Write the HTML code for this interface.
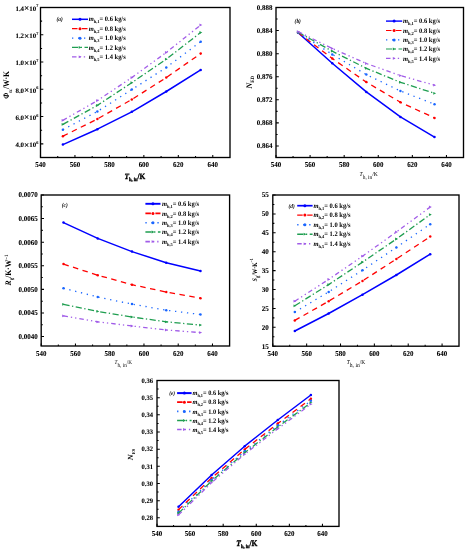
<!DOCTYPE html><html><head><meta charset="utf-8"><style>html,body{margin:0;padding:0;background:#fff;}svg{display:block;filter:blur(0.4px);}text{font-family:"Liberation Serif", "Times New Roman", serif;fill:#000;text-rendering:geometricPrecision;}</style></head><body>
<svg width="468" height="550" viewBox="0 0 468 550">
<rect width="468" height="550" fill="#fff"/>
<rect x="40.5" y="7.5" width="189.5" height="150" fill="none" stroke="#000" stroke-width="1.35"/>
<path d="M40.5,157.5v-2.6M74.95,157.5v-2.6M109.41,157.5v-2.6M143.86,157.5v-2.6M178.32,157.5v-2.6M212.77,157.5v-2.6M57.73,157.5v-1.5M92.18,157.5v-1.5M126.64,157.5v-1.5M161.09,157.5v-1.5M195.55,157.5v-1.5M40.5,143.86h2.8M40.5,116.59h2.8M40.5,89.32h2.8M40.5,62.05h2.8M40.5,34.77h2.8M40.5,7.5h2.8M40.5,130.23h1.6M40.5,102.95h1.6M40.5,75.68h1.6M40.5,48.41h1.6M40.5,21.14h1.6" stroke="#000" stroke-width="1.05" fill="none"/>
<text transform="translate(40.5,166.9) scale(0.93,1)" font-size="7.5" text-anchor="middle" font-weight="bold" stroke="#000" stroke-width="0.08">540</text>
<text transform="translate(74.95,166.9) scale(0.93,1)" font-size="7.5" text-anchor="middle" font-weight="bold" stroke="#000" stroke-width="0.08">560</text>
<text transform="translate(109.41,166.9) scale(0.93,1)" font-size="7.5" text-anchor="middle" font-weight="bold" stroke="#000" stroke-width="0.08">580</text>
<text transform="translate(143.86,166.9) scale(0.93,1)" font-size="7.5" text-anchor="middle" font-weight="bold" stroke="#000" stroke-width="0.08">600</text>
<text transform="translate(178.32,166.9) scale(0.93,1)" font-size="7.5" text-anchor="middle" font-weight="bold" stroke="#000" stroke-width="0.08">620</text>
<text transform="translate(212.77,166.9) scale(0.93,1)" font-size="7.5" text-anchor="middle" font-weight="bold" stroke="#000" stroke-width="0.08">640</text>
<text transform="translate(38.3,147.11) scale(1,1)" font-size="6.9" text-anchor="end" font-weight="bold" stroke="#000" stroke-width="0.08">4.0<tspan font-size="9.2" dy="0.5">×</tspan><tspan dy="-0.5">10</tspan><tspan font-size="4.2" dy="-3.3">6</tspan></text>
<text transform="translate(38.3,119.83) scale(1,1)" font-size="6.9" text-anchor="end" font-weight="bold" stroke="#000" stroke-width="0.08">6.0<tspan font-size="9.2" dy="0.5">×</tspan><tspan dy="-0.5">10</tspan><tspan font-size="4.2" dy="-3.3">6</tspan></text>
<text transform="translate(38.3,92.56) scale(1,1)" font-size="6.9" text-anchor="end" font-weight="bold" stroke="#000" stroke-width="0.08">8.0<tspan font-size="9.2" dy="0.5">×</tspan><tspan dy="-0.5">10</tspan><tspan font-size="4.2" dy="-3.3">6</tspan></text>
<text transform="translate(38.3,65.29) scale(1,1)" font-size="6.9" text-anchor="end" font-weight="bold" stroke="#000" stroke-width="0.08">1.0<tspan font-size="9.2" dy="0.5">×</tspan><tspan dy="-0.5">10</tspan><tspan font-size="4.2" dy="-3.3">7</tspan></text>
<text transform="translate(38.3,38.02) scale(1,1)" font-size="6.9" text-anchor="end" font-weight="bold" stroke="#000" stroke-width="0.08">1.2<tspan font-size="9.2" dy="0.5">×</tspan><tspan dy="-0.5">10</tspan><tspan font-size="4.2" dy="-3.3">7</tspan></text>
<text transform="translate(38.3,10.74) scale(1,1)" font-size="6.9" text-anchor="end" font-weight="bold" stroke="#000" stroke-width="0.08">1.4<tspan font-size="9.2" dy="0.5">×</tspan><tspan dy="-0.5">10</tspan><tspan font-size="4.2" dy="-3.3">7</tspan></text>
<path d="M62.9,144.6 L97.35,129.2 L131.8,111.8 L166.26,91.5 L200.71,69.9" fill="none" stroke="#0000ff" stroke-width="1.5" stroke-linejoin="round"/>
<circle cx="62.9" cy="144.6" r="1.25" fill="#0000ff"/>
<circle cx="97.35" cy="129.2" r="1.25" fill="#0000ff"/>
<circle cx="131.8" cy="111.8" r="1.25" fill="#0000ff"/>
<circle cx="166.26" cy="91.5" r="1.25" fill="#0000ff"/>
<circle cx="200.71" cy="69.9" r="1.25" fill="#0000ff"/>
<path d="M62.9,136.2 L97.35,119 L131.8,99.5 L166.26,77.6 L200.71,53.6" fill="none" stroke="#ff0000" stroke-width="1.3" stroke-linejoin="round" stroke-dasharray="5.5,4.5"/>
<circle cx="62.9" cy="136.2" r="1.25" fill="#ff0000"/>
<circle cx="97.35" cy="119" r="1.25" fill="#ff0000"/>
<circle cx="131.8" cy="99.5" r="1.25" fill="#ff0000"/>
<circle cx="166.26" cy="77.6" r="1.25" fill="#ff0000"/>
<circle cx="200.71" cy="53.6" r="1.25" fill="#ff0000"/>
<path d="M62.9,129.7 L97.35,111.5 L131.8,89.6 L166.26,67.5 L200.71,41.7" fill="none" stroke="#1a66ff" stroke-width="1.3" stroke-linejoin="round" stroke-dasharray="1.3,4.7"/>
<circle cx="62.9" cy="129.7" r="1.25" fill="#1a66ff"/>
<circle cx="97.35" cy="111.5" r="1.25" fill="#1a66ff"/>
<circle cx="131.8" cy="89.6" r="1.25" fill="#1a66ff"/>
<circle cx="166.26" cy="67.5" r="1.25" fill="#1a66ff"/>
<circle cx="200.71" cy="41.7" r="1.25" fill="#1a66ff"/>
<path d="M62.9,124.4 L97.35,105.4 L131.8,82.7 L166.26,59.2 L200.71,32.5" fill="none" stroke="#1f9e50" stroke-width="1.3" stroke-linejoin="round" stroke-dasharray="6.2,2.5,1.3,2.5"/>
<path d="M61.6,123 L64.5,124.4 L61.6,125.8 Z" fill="#1f9e50"/>
<path d="M96.05,104 L98.95,105.4 L96.05,106.8 Z" fill="#1f9e50"/>
<path d="M130.5,81.3 L133.4,82.7 L130.5,84.1 Z" fill="#1f9e50"/>
<path d="M164.96,57.8 L167.86,59.2 L164.96,60.6 Z" fill="#1f9e50"/>
<path d="M199.41,31.1 L202.31,32.5 L199.41,33.9 Z" fill="#1f9e50"/>
<path d="M62.9,120.3 L97.35,100.6 L131.8,77.6 L166.26,52.5 L200.71,25" fill="none" stroke="#a15ce8" stroke-width="1.3" stroke-linejoin="round" stroke-dasharray="4.5,3,1.3,3,1.3,3"/>
<path d="M61.6,118.9 L64.5,120.3 L61.6,121.7 Z" fill="#a15ce8"/>
<path d="M96.05,99.2 L98.95,100.6 L96.05,102 Z" fill="#a15ce8"/>
<path d="M130.5,76.2 L133.4,77.6 L130.5,79 Z" fill="#a15ce8"/>
<path d="M164.96,51.1 L167.86,52.5 L164.96,53.9 Z" fill="#a15ce8"/>
<path d="M199.41,23.6 L202.31,25 L199.41,26.4 Z" fill="#a15ce8"/>
<path d="M72,19.3H88" stroke="#0000ff" stroke-width="1.5"/>
<circle cx="80" cy="19.3" r="1.5" fill="#0000ff"/>
<text transform="translate(88.7,21.4) scale(0.97,1)" font-size="6.9" font-weight="bold" textLength="38.14" lengthAdjust="spacingAndGlyphs"><tspan font-style="italic" font-weight="bold">m</tspan><tspan font-size="4.69" dy="2.0">h,1</tspan><tspan dy="-2.0">= 0.6 kg/s</tspan></text>
<path d="M72,28.7H88" stroke="#ff0000" stroke-width="1.27" stroke-dasharray="5.5,4.5"/>
<circle cx="80" cy="28.7" r="1.5" fill="#ff0000"/>
<text transform="translate(88.7,30.8) scale(0.97,1)" font-size="6.9" font-weight="bold" textLength="38.14" lengthAdjust="spacingAndGlyphs"><tspan font-style="italic" font-weight="bold">m</tspan><tspan font-size="4.69" dy="2.0">h,2</tspan><tspan dy="-2.0">= 0.8 kg/s</tspan></text>
<path d="M72,38.2H88" stroke="#1a66ff" stroke-width="1.27" stroke-dasharray="1.3,4.7"/>
<circle cx="80" cy="38.2" r="1.5" fill="#1a66ff"/>
<text transform="translate(88.7,40.3) scale(0.97,1)" font-size="6.9" font-weight="bold" textLength="38.14" lengthAdjust="spacingAndGlyphs"><tspan font-style="italic" font-weight="bold">m</tspan><tspan font-size="4.69" dy="2.0">h,3</tspan><tspan dy="-2.0">= 1.0 kg/s</tspan></text>
<path d="M72,47.4H88" stroke="#1f9e50" stroke-width="1.27" stroke-dasharray="6.2,2.5,1.3,2.5"/>
<path d="M78.7,46 L81.6,47.4 L78.7,48.8 Z" fill="#1f9e50"/>
<text transform="translate(88.7,49.5) scale(0.97,1)" font-size="6.9" font-weight="bold" textLength="38.14" lengthAdjust="spacingAndGlyphs"><tspan font-style="italic" font-weight="bold">m</tspan><tspan font-size="4.69" dy="2.0">h,4</tspan><tspan dy="-2.0">= 1.2 kg/s</tspan></text>
<path d="M72,56.8H88" stroke="#a15ce8" stroke-width="1.27" stroke-dasharray="4.5,3,1.3,3,1.3,3"/>
<path d="M78.7,55.4 L81.6,56.8 L78.7,58.2 Z" fill="#a15ce8"/>
<text transform="translate(88.7,58.9) scale(0.97,1)" font-size="6.9" font-weight="bold" textLength="38.14" lengthAdjust="spacingAndGlyphs"><tspan font-style="italic" font-weight="bold">m</tspan><tspan font-size="4.69" dy="2.0">h,5</tspan><tspan dy="-2.0">= 1.4 kg/s</tspan></text>
<text transform="translate(56.5,20.8) scale(0.9,1)" font-size="6" font-weight="bold" font-style="italic">(a)</text>
<text transform="translate(124.5,178.8) scale(0.9,1)" font-size="8.2" font-weight="bold" stroke="#000" stroke-width="0.35"><tspan font-style="italic">T</tspan><tspan font-size="5" dy="2">h, in</tspan><tspan dy="-2">/K</tspan></text>
<text transform="translate(9.4,98.7) scale(1.12,1) rotate(-90)" font-size="7.6" font-weight="bold"><tspan font-style="italic">Φ</tspan><tspan font-size="4.6" dy="2">tc</tspan><tspan dy="-2">/W·K</tspan></text>
<rect x="276" y="7.5" width="187.5" height="150" fill="none" stroke="#000" stroke-width="1.35"/>
<path d="M276,157.5v-2.6M310.09,157.5v-2.6M344.18,157.5v-2.6M378.27,157.5v-2.6M412.36,157.5v-2.6M446.45,157.5v-2.6M293.05,157.5v-1.5M327.14,157.5v-1.5M361.23,157.5v-1.5M395.32,157.5v-1.5M429.41,157.5v-1.5M276,145.96h2.8M276,122.88h2.8M276,99.81h2.8M276,76.73h2.8M276,53.65h2.8M276,30.58h2.8M276,7.5h2.8M276,134.42h1.6M276,111.35h1.6M276,88.27h1.6M276,65.19h1.6M276,42.12h1.6M276,19.04h1.6" stroke="#000" stroke-width="1.05" fill="none"/>
<text transform="translate(276,166.9) scale(0.93,1)" font-size="7.5" text-anchor="middle" font-weight="bold" stroke="#000" stroke-width="0.08">540</text>
<text transform="translate(310.09,166.9) scale(0.93,1)" font-size="7.5" text-anchor="middle" font-weight="bold" stroke="#000" stroke-width="0.08">560</text>
<text transform="translate(344.18,166.9) scale(0.93,1)" font-size="7.5" text-anchor="middle" font-weight="bold" stroke="#000" stroke-width="0.08">580</text>
<text transform="translate(378.27,166.9) scale(0.93,1)" font-size="7.5" text-anchor="middle" font-weight="bold" stroke="#000" stroke-width="0.08">600</text>
<text transform="translate(412.36,166.9) scale(0.93,1)" font-size="7.5" text-anchor="middle" font-weight="bold" stroke="#000" stroke-width="0.08">620</text>
<text transform="translate(446.45,166.9) scale(0.93,1)" font-size="7.5" text-anchor="middle" font-weight="bold" stroke="#000" stroke-width="0.08">640</text>
<text transform="translate(272.4,148.3) scale(0.98,1)" font-size="7.1" text-anchor="end" font-weight="bold" stroke="#000" stroke-width="0.08">0.864</text>
<text transform="translate(272.4,125.23) scale(0.98,1)" font-size="7.1" text-anchor="end" font-weight="bold" stroke="#000" stroke-width="0.08">0.868</text>
<text transform="translate(272.4,102.15) scale(0.98,1)" font-size="7.1" text-anchor="end" font-weight="bold" stroke="#000" stroke-width="0.08">0.872</text>
<text transform="translate(272.4,79.07) scale(0.98,1)" font-size="7.1" text-anchor="end" font-weight="bold" stroke="#000" stroke-width="0.08">0.876</text>
<text transform="translate(272.4,56) scale(0.98,1)" font-size="7.1" text-anchor="end" font-weight="bold" stroke="#000" stroke-width="0.08">0.880</text>
<text transform="translate(272.4,32.92) scale(0.98,1)" font-size="7.1" text-anchor="end" font-weight="bold" stroke="#000" stroke-width="0.08">0.884</text>
<text transform="translate(272.4,9.84) scale(0.98,1)" font-size="7.1" text-anchor="end" font-weight="bold" stroke="#000" stroke-width="0.08">0.888</text>
<path d="M298.16,32.8 L332.25,63.3 L366.34,91.9 L400.43,116.9 L434.52,137.1" fill="none" stroke="#0000ff" stroke-width="1.5" stroke-linejoin="round"/>
<circle cx="298.16" cy="32.8" r="1.25" fill="#0000ff"/>
<circle cx="332.25" cy="63.3" r="1.25" fill="#0000ff"/>
<circle cx="366.34" cy="91.9" r="1.25" fill="#0000ff"/>
<circle cx="400.43" cy="116.9" r="1.25" fill="#0000ff"/>
<circle cx="434.52" cy="137.1" r="1.25" fill="#0000ff"/>
<path d="M298.16,32.6 L332.25,58.5 L366.34,82.1 L400.43,102.3 L434.52,117.9" fill="none" stroke="#ff0000" stroke-width="1.3" stroke-linejoin="round" stroke-dasharray="5.5,4.5"/>
<circle cx="298.16" cy="32.6" r="1.25" fill="#ff0000"/>
<circle cx="332.25" cy="58.5" r="1.25" fill="#ff0000"/>
<circle cx="366.34" cy="82.1" r="1.25" fill="#ff0000"/>
<circle cx="400.43" cy="102.3" r="1.25" fill="#ff0000"/>
<circle cx="434.52" cy="117.9" r="1.25" fill="#ff0000"/>
<path d="M298.16,32.4 L332.25,54.4 L366.34,74.6 L400.43,91 L434.52,104.2" fill="none" stroke="#1a66ff" stroke-width="1.3" stroke-linejoin="round" stroke-dasharray="1.3,4.7"/>
<circle cx="298.16" cy="32.4" r="1.25" fill="#1a66ff"/>
<circle cx="332.25" cy="54.4" r="1.25" fill="#1a66ff"/>
<circle cx="366.34" cy="74.6" r="1.25" fill="#1a66ff"/>
<circle cx="400.43" cy="91" r="1.25" fill="#1a66ff"/>
<circle cx="434.52" cy="104.2" r="1.25" fill="#1a66ff"/>
<path d="M298.16,32.2 L332.25,51.2 L366.34,68.3 L400.43,82.3 L434.52,93.3" fill="none" stroke="#1f9e50" stroke-width="1.3" stroke-linejoin="round" stroke-dasharray="6.2,2.5,1.3,2.5"/>
<path d="M296.86,30.8 L299.76,32.2 L296.86,33.6 Z" fill="#1f9e50"/>
<path d="M330.95,49.8 L333.85,51.2 L330.95,52.6 Z" fill="#1f9e50"/>
<path d="M365.04,66.9 L367.94,68.3 L365.04,69.7 Z" fill="#1f9e50"/>
<path d="M399.13,80.9 L402.03,82.3 L399.13,83.7 Z" fill="#1f9e50"/>
<path d="M433.22,91.9 L436.12,93.3 L433.22,94.7 Z" fill="#1f9e50"/>
<path d="M298.16,31.6 L332.25,48.5 L366.34,63.5 L400.43,75.6 L434.52,85.2" fill="none" stroke="#a15ce8" stroke-width="1.3" stroke-linejoin="round" stroke-dasharray="4.5,3,1.3,3,1.3,3"/>
<path d="M296.86,30.2 L299.76,31.6 L296.86,33 Z" fill="#a15ce8"/>
<path d="M330.95,47.1 L333.85,48.5 L330.95,49.9 Z" fill="#a15ce8"/>
<path d="M365.04,62.1 L367.94,63.5 L365.04,64.9 Z" fill="#a15ce8"/>
<path d="M399.13,74.2 L402.03,75.6 L399.13,77 Z" fill="#a15ce8"/>
<path d="M433.22,83.8 L436.12,85.2 L433.22,86.6 Z" fill="#a15ce8"/>
<path d="M386,21.1H402.2" stroke="#0000ff" stroke-width="1.4"/>
<circle cx="394.1" cy="21.1" r="1.5" fill="#0000ff"/>
<text transform="translate(403,23.2) scale(0.97,1)" font-size="6.9" font-weight="bold" textLength="38.14" lengthAdjust="spacingAndGlyphs"><tspan font-style="italic" font-weight="bold">m</tspan><tspan font-size="4.69" dy="2.0">h,1</tspan><tspan dy="-2.0">= 0.6 kg/s</tspan></text>
<path d="M386,30.5H402.2" stroke="#ff0000" stroke-width="1.19" stroke-dasharray="5.5,4.5"/>
<circle cx="394.1" cy="30.5" r="1.5" fill="#ff0000"/>
<text transform="translate(403,32.6) scale(0.97,1)" font-size="6.9" font-weight="bold" textLength="38.14" lengthAdjust="spacingAndGlyphs"><tspan font-style="italic" font-weight="bold">m</tspan><tspan font-size="4.69" dy="2.0">h,2</tspan><tspan dy="-2.0">= 0.8 kg/s</tspan></text>
<path d="M386,39.9H402.2" stroke="#1a66ff" stroke-width="1.19" stroke-dasharray="1.3,4.7"/>
<circle cx="394.1" cy="39.9" r="1.5" fill="#1a66ff"/>
<text transform="translate(403,42) scale(0.97,1)" font-size="6.9" font-weight="bold" textLength="38.14" lengthAdjust="spacingAndGlyphs"><tspan font-style="italic" font-weight="bold">m</tspan><tspan font-size="4.69" dy="2.0">h,3</tspan><tspan dy="-2.0">= 1.0 kg/s</tspan></text>
<path d="M386,49H402.2" stroke="#1f9e50" stroke-width="1.19" stroke-dasharray="6.2,2.5,1.3,2.5"/>
<path d="M392.8,47.6 L395.7,49 L392.8,50.4 Z" fill="#1f9e50"/>
<text transform="translate(403,51.1) scale(0.97,1)" font-size="6.9" font-weight="bold" textLength="38.14" lengthAdjust="spacingAndGlyphs"><tspan font-style="italic" font-weight="bold">m</tspan><tspan font-size="4.69" dy="2.0">h,4</tspan><tspan dy="-2.0">= 1.2 kg/s</tspan></text>
<path d="M386,58.4H402.2" stroke="#a15ce8" stroke-width="1.19" stroke-dasharray="4.5,3,1.3,3,1.3,3"/>
<path d="M392.8,57 L395.7,58.4 L392.8,59.8 Z" fill="#a15ce8"/>
<text transform="translate(403,60.5) scale(0.97,1)" font-size="6.9" font-weight="bold" textLength="38.14" lengthAdjust="spacingAndGlyphs"><tspan font-style="italic" font-weight="bold">m</tspan><tspan font-size="4.69" dy="2.0">h,5</tspan><tspan dy="-2.0">= 1.4 kg/s</tspan></text>
<text transform="translate(294.6,22.9) scale(0.9,1)" font-size="6" font-weight="bold" font-style="italic">(b)</text>
<text transform="translate(359.6,176.2) scale(0.9,1)" font-size="6.2"><tspan font-style="italic">T</tspan><tspan font-size="6" dy="2.6">h, in</tspan><tspan dy="-2.6">/K</tspan></text>
<text transform="translate(252.4,88.8) scale(1,1) rotate(-90)" font-size="8.4" font-weight="bold"><tspan font-style="italic">N</tspan><tspan font-size="5" dy="1.7">ED</tspan></text>
<rect x="41.2" y="195" width="188.4" height="151" fill="none" stroke="#000" stroke-width="1.35"/>
<path d="M41.2,346v-2.6M75.45,346v-2.6M109.71,346v-2.6M143.96,346v-2.6M178.22,346v-2.6M212.47,346v-2.6M58.33,346v-1.5M92.58,346v-1.5M126.84,346v-1.5M161.09,346v-1.5M195.35,346v-1.5M41.2,336.56h2.8M41.2,312.97h2.8M41.2,289.38h2.8M41.2,265.78h2.8M41.2,242.19h2.8M41.2,218.59h2.8M41.2,195h2.8M41.2,324.77h1.6M41.2,301.17h1.6M41.2,277.58h1.6M41.2,253.98h1.6M41.2,230.39h1.6M41.2,206.8h1.6" stroke="#000" stroke-width="1.05" fill="none"/>
<text transform="translate(41.2,355.8) scale(0.93,1)" font-size="7.5" text-anchor="middle" font-weight="bold" stroke="#000" stroke-width="0.08">540</text>
<text transform="translate(75.45,355.8) scale(0.93,1)" font-size="7.5" text-anchor="middle" font-weight="bold" stroke="#000" stroke-width="0.08">560</text>
<text transform="translate(109.71,355.8) scale(0.93,1)" font-size="7.5" text-anchor="middle" font-weight="bold" stroke="#000" stroke-width="0.08">580</text>
<text transform="translate(143.96,355.8) scale(0.93,1)" font-size="7.5" text-anchor="middle" font-weight="bold" stroke="#000" stroke-width="0.08">600</text>
<text transform="translate(178.22,355.8) scale(0.93,1)" font-size="7.5" text-anchor="middle" font-weight="bold" stroke="#000" stroke-width="0.08">620</text>
<text transform="translate(212.47,355.8) scale(0.93,1)" font-size="7.5" text-anchor="middle" font-weight="bold" stroke="#000" stroke-width="0.08">640</text>
<text transform="translate(37.8,339) scale(0.95,1)" font-size="7.4" text-anchor="end" font-weight="bold" stroke="#000" stroke-width="0.08">0.0040</text>
<text transform="translate(37.8,315.41) scale(0.95,1)" font-size="7.4" text-anchor="end" font-weight="bold" stroke="#000" stroke-width="0.08">0.0045</text>
<text transform="translate(37.8,291.82) scale(0.95,1)" font-size="7.4" text-anchor="end" font-weight="bold" stroke="#000" stroke-width="0.08">0.0050</text>
<text transform="translate(37.8,268.22) scale(0.95,1)" font-size="7.4" text-anchor="end" font-weight="bold" stroke="#000" stroke-width="0.08">0.0055</text>
<text transform="translate(37.8,244.63) scale(0.95,1)" font-size="7.4" text-anchor="end" font-weight="bold" stroke="#000" stroke-width="0.08">0.0060</text>
<text transform="translate(37.8,221.04) scale(0.95,1)" font-size="7.4" text-anchor="end" font-weight="bold" stroke="#000" stroke-width="0.08">0.0065</text>
<text transform="translate(37.8,197.44) scale(0.95,1)" font-size="7.4" text-anchor="end" font-weight="bold" stroke="#000" stroke-width="0.08">0.0070</text>
<path d="M63.47,222.6 L97.72,238.4 L131.97,251.6 L166.23,262.7 L200.48,271" fill="none" stroke="#0000ff" stroke-width="1.5" stroke-linejoin="round"/>
<circle cx="63.47" cy="222.6" r="1.25" fill="#0000ff"/>
<circle cx="97.72" cy="238.4" r="1.25" fill="#0000ff"/>
<circle cx="131.97" cy="251.6" r="1.25" fill="#0000ff"/>
<circle cx="166.23" cy="262.7" r="1.25" fill="#0000ff"/>
<circle cx="200.48" cy="271" r="1.25" fill="#0000ff"/>
<path d="M63.47,264.1 L97.72,275.2 L131.97,284.7 L166.23,292 L200.48,298.2" fill="none" stroke="#ff0000" stroke-width="1.3" stroke-linejoin="round" stroke-dasharray="5.5,4.5"/>
<circle cx="63.47" cy="264.1" r="1.25" fill="#ff0000"/>
<circle cx="97.72" cy="275.2" r="1.25" fill="#ff0000"/>
<circle cx="131.97" cy="284.7" r="1.25" fill="#ff0000"/>
<circle cx="166.23" cy="292" r="1.25" fill="#ff0000"/>
<circle cx="200.48" cy="298.2" r="1.25" fill="#ff0000"/>
<path d="M63.47,288.2 L97.72,297 L131.97,304.1 L166.23,310.2 L200.48,314.5" fill="none" stroke="#1a66ff" stroke-width="1.3" stroke-linejoin="round" stroke-dasharray="1.3,4.7"/>
<circle cx="63.47" cy="288.2" r="1.25" fill="#1a66ff"/>
<circle cx="97.72" cy="297" r="1.25" fill="#1a66ff"/>
<circle cx="131.97" cy="304.1" r="1.25" fill="#1a66ff"/>
<circle cx="166.23" cy="310.2" r="1.25" fill="#1a66ff"/>
<circle cx="200.48" cy="314.5" r="1.25" fill="#1a66ff"/>
<path d="M63.47,304.3 L97.72,311.4 L131.97,317 L166.23,321.8 L200.48,325.1" fill="none" stroke="#1f9e50" stroke-width="1.3" stroke-linejoin="round" stroke-dasharray="6.2,2.5,1.3,2.5"/>
<path d="M62.17,302.9 L65.07,304.3 L62.17,305.7 Z" fill="#1f9e50"/>
<path d="M96.42,310 L99.32,311.4 L96.42,312.8 Z" fill="#1f9e50"/>
<path d="M130.67,315.6 L133.57,317 L130.67,318.4 Z" fill="#1f9e50"/>
<path d="M164.93,320.4 L167.83,321.8 L164.93,323.2 Z" fill="#1f9e50"/>
<path d="M199.18,323.7 L202.08,325.1 L199.18,326.5 Z" fill="#1f9e50"/>
<path d="M63.47,315.9 L97.72,321.8 L131.97,326 L166.23,330 L200.48,332.6" fill="none" stroke="#a15ce8" stroke-width="1.3" stroke-linejoin="round" stroke-dasharray="4.5,3,1.3,3,1.3,3"/>
<path d="M62.17,314.5 L65.07,315.9 L62.17,317.3 Z" fill="#a15ce8"/>
<path d="M96.42,320.4 L99.32,321.8 L96.42,323.2 Z" fill="#a15ce8"/>
<path d="M130.67,324.6 L133.57,326 L130.67,327.4 Z" fill="#a15ce8"/>
<path d="M164.93,328.6 L167.83,330 L164.93,331.4 Z" fill="#a15ce8"/>
<path d="M199.18,331.2 L202.08,332.6 L199.18,334 Z" fill="#a15ce8"/>
<path d="M145.4,203.8H160.5" stroke="#0000ff" stroke-width="1.9"/>
<circle cx="152.95" cy="203.8" r="1.5" fill="#0000ff"/>
<text transform="translate(162,205.9) scale(0.97,1)" font-size="6.9" font-weight="bold" textLength="38.14" lengthAdjust="spacingAndGlyphs"><tspan font-style="italic" font-weight="bold">m</tspan><tspan font-size="4.69" dy="2.0">h,1</tspan><tspan dy="-2.0">= 0.6 kg/s</tspan></text>
<path d="M145.4,213.4H160.5" stroke="#ff0000" stroke-width="1.61" stroke-dasharray="5.5,4.5"/>
<circle cx="152.95" cy="213.4" r="1.5" fill="#ff0000"/>
<text transform="translate(162,215.5) scale(0.97,1)" font-size="6.9" font-weight="bold" textLength="38.14" lengthAdjust="spacingAndGlyphs"><tspan font-style="italic" font-weight="bold">m</tspan><tspan font-size="4.69" dy="2.0">h,2</tspan><tspan dy="-2.0">= 0.8 kg/s</tspan></text>
<path d="M145.4,222.7H160.5" stroke="#1a66ff" stroke-width="1.61" stroke-dasharray="1.3,4.7"/>
<circle cx="152.95" cy="222.7" r="1.5" fill="#1a66ff"/>
<text transform="translate(162,224.8) scale(0.97,1)" font-size="6.9" font-weight="bold" textLength="38.14" lengthAdjust="spacingAndGlyphs"><tspan font-style="italic" font-weight="bold">m</tspan><tspan font-size="4.69" dy="2.0">h,3</tspan><tspan dy="-2.0">= 1.0 kg/s</tspan></text>
<path d="M145.4,232H160.5" stroke="#1f9e50" stroke-width="1.61" stroke-dasharray="6.2,2.5,1.3,2.5"/>
<path d="M151.65,230.6 L154.55,232 L151.65,233.4 Z" fill="#1f9e50"/>
<text transform="translate(162,234.1) scale(0.97,1)" font-size="6.9" font-weight="bold" textLength="38.14" lengthAdjust="spacingAndGlyphs"><tspan font-style="italic" font-weight="bold">m</tspan><tspan font-size="4.69" dy="2.0">h,4</tspan><tspan dy="-2.0">= 1.2 kg/s</tspan></text>
<path d="M145.4,241.6H160.5" stroke="#a15ce8" stroke-width="1.61" stroke-dasharray="4.5,3,1.3,3,1.3,3"/>
<path d="M151.65,240.2 L154.55,241.6 L151.65,243 Z" fill="#a15ce8"/>
<text transform="translate(162,243.7) scale(0.97,1)" font-size="6.9" font-weight="bold" textLength="38.14" lengthAdjust="spacingAndGlyphs"><tspan font-style="italic" font-weight="bold">m</tspan><tspan font-size="4.69" dy="2.0">h,5</tspan><tspan dy="-2.0">= 1.4 kg/s</tspan></text>
<text transform="translate(61.7,207.4) scale(0.9,1)" font-size="6" font-weight="bold" font-style="italic">(c)</text>
<text transform="translate(114.6,364.3) scale(0.9,1)" font-size="5.8"><tspan font-style="italic">T</tspan><tspan font-size="5.8" dy="2.6">h, in</tspan><tspan dy="-2.6">/K</tspan></text>
<text transform="translate(10.9,285.4) scale(1.1,1) rotate(-90)" font-size="7.6" font-weight="bold"><tspan font-style="italic">R</tspan><tspan font-size="4.8" dy="1.8">g</tspan><tspan dy="-1.8">/K·W</tspan><tspan font-size="4.8" dy="-3">−1</tspan></text>
<rect x="272.8" y="195" width="186.2" height="151.2" fill="none" stroke="#000" stroke-width="1.35"/>
<path d="M272.8,346.2v-2.6M306.65,346.2v-2.6M340.51,346.2v-2.6M374.36,346.2v-2.6M408.22,346.2v-2.6M442.07,346.2v-2.6M289.73,346.2v-1.5M323.58,346.2v-1.5M357.44,346.2v-1.5M391.29,346.2v-1.5M425.15,346.2v-1.5M272.8,346.2h2.8M272.8,327.3h2.8M272.8,308.4h2.8M272.8,289.5h2.8M272.8,270.6h2.8M272.8,251.7h2.8M272.8,232.8h2.8M272.8,213.9h2.8M272.8,195h2.8M272.8,336.75h1.6M272.8,317.85h1.6M272.8,298.95h1.6M272.8,280.05h1.6M272.8,261.15h1.6M272.8,242.25h1.6M272.8,223.35h1.6M272.8,204.45h1.6" stroke="#000" stroke-width="1.05" fill="none"/>
<text transform="translate(272.8,356.2) scale(0.93,1)" font-size="7.5" text-anchor="middle" font-weight="bold" stroke="#000" stroke-width="0.08">540</text>
<text transform="translate(306.65,356.2) scale(0.93,1)" font-size="7.5" text-anchor="middle" font-weight="bold" stroke="#000" stroke-width="0.08">560</text>
<text transform="translate(340.51,356.2) scale(0.93,1)" font-size="7.5" text-anchor="middle" font-weight="bold" stroke="#000" stroke-width="0.08">580</text>
<text transform="translate(374.36,356.2) scale(0.93,1)" font-size="7.5" text-anchor="middle" font-weight="bold" stroke="#000" stroke-width="0.08">600</text>
<text transform="translate(408.22,356.2) scale(0.93,1)" font-size="7.5" text-anchor="middle" font-weight="bold" stroke="#000" stroke-width="0.08">620</text>
<text transform="translate(442.07,356.2) scale(0.93,1)" font-size="7.5" text-anchor="middle" font-weight="bold" stroke="#000" stroke-width="0.08">640</text>
<text transform="translate(268.9,348.61) scale(0.97,1)" font-size="7.3" text-anchor="end" font-weight="bold" stroke="#000" stroke-width="0.08">15</text>
<text transform="translate(268.9,329.71) scale(0.97,1)" font-size="7.3" text-anchor="end" font-weight="bold" stroke="#000" stroke-width="0.08">20</text>
<text transform="translate(268.9,310.81) scale(0.97,1)" font-size="7.3" text-anchor="end" font-weight="bold" stroke="#000" stroke-width="0.08">25</text>
<text transform="translate(268.9,291.91) scale(0.97,1)" font-size="7.3" text-anchor="end" font-weight="bold" stroke="#000" stroke-width="0.08">30</text>
<text transform="translate(268.9,273.01) scale(0.97,1)" font-size="7.3" text-anchor="end" font-weight="bold" stroke="#000" stroke-width="0.08">35</text>
<text transform="translate(268.9,254.11) scale(0.97,1)" font-size="7.3" text-anchor="end" font-weight="bold" stroke="#000" stroke-width="0.08">40</text>
<text transform="translate(268.9,235.21) scale(0.97,1)" font-size="7.3" text-anchor="end" font-weight="bold" stroke="#000" stroke-width="0.08">45</text>
<text transform="translate(268.9,216.31) scale(0.97,1)" font-size="7.3" text-anchor="end" font-weight="bold" stroke="#000" stroke-width="0.08">50</text>
<text transform="translate(268.9,197.41) scale(0.97,1)" font-size="7.3" text-anchor="end" font-weight="bold" stroke="#000" stroke-width="0.08">55</text>
<path d="M294.81,331 L328.66,313.5 L362.51,294.7 L396.37,275 L430.22,254.2" fill="none" stroke="#0000ff" stroke-width="1.5" stroke-linejoin="round"/>
<circle cx="294.81" cy="331" r="1.25" fill="#0000ff"/>
<circle cx="328.66" cy="313.5" r="1.25" fill="#0000ff"/>
<circle cx="362.51" cy="294.7" r="1.25" fill="#0000ff"/>
<circle cx="396.37" cy="275" r="1.25" fill="#0000ff"/>
<circle cx="430.22" cy="254.2" r="1.25" fill="#0000ff"/>
<path d="M294.81,320.4 L328.66,301.2 L362.51,280.9 L396.37,259 L430.22,236.6" fill="none" stroke="#ff0000" stroke-width="1.3" stroke-linejoin="round" stroke-dasharray="5.5,4.5"/>
<circle cx="294.81" cy="320.4" r="1.25" fill="#ff0000"/>
<circle cx="328.66" cy="301.2" r="1.25" fill="#ff0000"/>
<circle cx="362.51" cy="280.9" r="1.25" fill="#ff0000"/>
<circle cx="396.37" cy="259" r="1.25" fill="#ff0000"/>
<circle cx="430.22" cy="236.6" r="1.25" fill="#ff0000"/>
<path d="M294.81,312.1 L328.66,291.9 L362.51,270.2 L396.37,247.4 L430.22,224.2" fill="none" stroke="#1a66ff" stroke-width="1.3" stroke-linejoin="round" stroke-dasharray="1.3,4.7"/>
<circle cx="294.81" cy="312.1" r="1.25" fill="#1a66ff"/>
<circle cx="328.66" cy="291.9" r="1.25" fill="#1a66ff"/>
<circle cx="362.51" cy="270.2" r="1.25" fill="#1a66ff"/>
<circle cx="396.37" cy="247.4" r="1.25" fill="#1a66ff"/>
<circle cx="430.22" cy="224.2" r="1.25" fill="#1a66ff"/>
<path d="M294.81,305.8 L328.66,284.6 L362.51,262.1 L396.37,239 L430.22,214.6" fill="none" stroke="#1f9e50" stroke-width="1.3" stroke-linejoin="round" stroke-dasharray="6.2,2.5,1.3,2.5"/>
<path d="M293.51,304.4 L296.41,305.8 L293.51,307.2 Z" fill="#1f9e50"/>
<path d="M327.36,283.2 L330.26,284.6 L327.36,286 Z" fill="#1f9e50"/>
<path d="M361.21,260.7 L364.11,262.1 L361.21,263.5 Z" fill="#1f9e50"/>
<path d="M395.07,237.6 L397.97,239 L395.07,240.4 Z" fill="#1f9e50"/>
<path d="M428.92,213.2 L431.82,214.6 L428.92,216 Z" fill="#1f9e50"/>
<path d="M294.81,301.2 L328.66,279.4 L362.51,256.2 L396.37,232 L430.22,207" fill="none" stroke="#a15ce8" stroke-width="1.3" stroke-linejoin="round" stroke-dasharray="4.5,3,1.3,3,1.3,3"/>
<path d="M293.51,299.8 L296.41,301.2 L293.51,302.6 Z" fill="#a15ce8"/>
<path d="M327.36,278 L330.26,279.4 L327.36,280.8 Z" fill="#a15ce8"/>
<path d="M361.21,254.8 L364.11,256.2 L361.21,257.6 Z" fill="#a15ce8"/>
<path d="M395.07,230.6 L397.97,232 L395.07,233.4 Z" fill="#a15ce8"/>
<path d="M428.92,205.6 L431.82,207 L428.92,208.4 Z" fill="#a15ce8"/>
<path d="M297.2,205.7H312.6" stroke="#0000ff" stroke-width="1.7"/>
<circle cx="304.9" cy="205.7" r="1.5" fill="#0000ff"/>
<text transform="translate(313.5,207.8) scale(0.97,1)" font-size="6.9" font-weight="bold" textLength="38.14" lengthAdjust="spacingAndGlyphs"><tspan font-style="italic" font-weight="bold">m</tspan><tspan font-size="4.69" dy="2.0">h,1</tspan><tspan dy="-2.0">= 0.6 kg/s</tspan></text>
<path d="M297.2,215.1H312.6" stroke="#ff0000" stroke-width="1.44" stroke-dasharray="5.5,4.5"/>
<circle cx="304.9" cy="215.1" r="1.5" fill="#ff0000"/>
<text transform="translate(313.5,217.2) scale(0.97,1)" font-size="6.9" font-weight="bold" textLength="38.14" lengthAdjust="spacingAndGlyphs"><tspan font-style="italic" font-weight="bold">m</tspan><tspan font-size="4.69" dy="2.0">h,2</tspan><tspan dy="-2.0">= 0.8 kg/s</tspan></text>
<path d="M297.2,224.8H312.6" stroke="#1a66ff" stroke-width="1.44" stroke-dasharray="1.3,4.7"/>
<circle cx="304.9" cy="224.8" r="1.5" fill="#1a66ff"/>
<text transform="translate(313.5,226.9) scale(0.97,1)" font-size="6.9" font-weight="bold" textLength="38.14" lengthAdjust="spacingAndGlyphs"><tspan font-style="italic" font-weight="bold">m</tspan><tspan font-size="4.69" dy="2.0">h,3</tspan><tspan dy="-2.0">= 1.0 kg/s</tspan></text>
<path d="M297.2,234.2H312.6" stroke="#1f9e50" stroke-width="1.44" stroke-dasharray="6.2,2.5,1.3,2.5"/>
<path d="M303.6,232.8 L306.5,234.2 L303.6,235.6 Z" fill="#1f9e50"/>
<text transform="translate(313.5,236.3) scale(0.97,1)" font-size="6.9" font-weight="bold" textLength="38.14" lengthAdjust="spacingAndGlyphs"><tspan font-style="italic" font-weight="bold">m</tspan><tspan font-size="4.69" dy="2.0">h,4</tspan><tspan dy="-2.0">= 1.2 kg/s</tspan></text>
<path d="M297.2,243.8H312.6" stroke="#a15ce8" stroke-width="1.44" stroke-dasharray="4.5,3,1.3,3,1.3,3"/>
<path d="M303.6,242.4 L306.5,243.8 L303.6,245.2 Z" fill="#a15ce8"/>
<text transform="translate(313.5,245.9) scale(0.97,1)" font-size="6.9" font-weight="bold" textLength="38.14" lengthAdjust="spacingAndGlyphs"><tspan font-style="italic" font-weight="bold">m</tspan><tspan font-size="4.69" dy="2.0">h,5</tspan><tspan dy="-2.0">= 1.4 kg/s</tspan></text>
<text transform="translate(288.5,208) scale(0.9,1)" font-size="5.9" font-weight="bold" font-style="italic">(d)</text>
<text transform="translate(346.8,364.3) scale(0.9,1)" font-size="6"><tspan font-style="italic">T</tspan><tspan font-size="6.2" dy="2.6">h, in</tspan><tspan dy="-2.6">/K</tspan></text>
<text transform="translate(256.6,281.2) scale(1.22,1) rotate(-90)" font-size="5.6" font-weight="bold"><tspan font-style="italic">S</tspan><tspan font-size="4.4" dy="1.6">g</tspan><tspan dy="-1.6">/W·K</tspan><tspan font-size="4" dy="-2.6">−1</tspan></text>
<rect x="157" y="380.5" width="182" height="145.9" fill="none" stroke="#000" stroke-width="1.35"/>
<path d="M157,526.4v-2.6M190.09,526.4v-2.6M223.18,526.4v-2.6M256.27,526.4v-2.6M289.36,526.4v-2.6M322.45,526.4v-2.6M173.55,526.4v-1.5M206.64,526.4v-1.5M239.73,526.4v-1.5M272.82,526.4v-1.5M305.91,526.4v-1.5M157,517.82h2.8M157,500.65h2.8M157,483.49h2.8M157,466.32h2.8M157,449.16h2.8M157,431.99h2.8M157,414.83h2.8M157,397.66h2.8M157,380.5h2.8M157,509.24h1.6M157,492.07h1.6M157,474.91h1.6M157,457.74h1.6M157,440.58h1.6M157,423.41h1.6M157,406.25h1.6M157,389.08h1.6" stroke="#000" stroke-width="1.05" fill="none"/>
<text transform="translate(157,535.8) scale(0.93,1)" font-size="7.5" text-anchor="middle" font-weight="bold" stroke="#000" stroke-width="0.08">540</text>
<text transform="translate(190.09,535.8) scale(0.93,1)" font-size="7.5" text-anchor="middle" font-weight="bold" stroke="#000" stroke-width="0.08">560</text>
<text transform="translate(223.18,535.8) scale(0.93,1)" font-size="7.5" text-anchor="middle" font-weight="bold" stroke="#000" stroke-width="0.08">580</text>
<text transform="translate(256.27,535.8) scale(0.93,1)" font-size="7.5" text-anchor="middle" font-weight="bold" stroke="#000" stroke-width="0.08">600</text>
<text transform="translate(289.36,535.8) scale(0.93,1)" font-size="7.5" text-anchor="middle" font-weight="bold" stroke="#000" stroke-width="0.08">620</text>
<text transform="translate(322.45,535.8) scale(0.93,1)" font-size="7.5" text-anchor="middle" font-weight="bold" stroke="#000" stroke-width="0.08">640</text>
<text transform="translate(153,520.09) scale(0.95,1)" font-size="6.9" text-anchor="end" font-weight="bold" stroke="#000" stroke-width="0.08">0.28</text>
<text transform="translate(153,502.93) scale(0.95,1)" font-size="6.9" text-anchor="end" font-weight="bold" stroke="#000" stroke-width="0.08">0.29</text>
<text transform="translate(153,485.77) scale(0.95,1)" font-size="6.9" text-anchor="end" font-weight="bold" stroke="#000" stroke-width="0.08">0.30</text>
<text transform="translate(153,468.6) scale(0.95,1)" font-size="6.9" text-anchor="end" font-weight="bold" stroke="#000" stroke-width="0.08">0.31</text>
<text transform="translate(153,451.44) scale(0.95,1)" font-size="6.9" text-anchor="end" font-weight="bold" stroke="#000" stroke-width="0.08">0.32</text>
<text transform="translate(153,434.27) scale(0.95,1)" font-size="6.9" text-anchor="end" font-weight="bold" stroke="#000" stroke-width="0.08">0.33</text>
<text transform="translate(153,417.11) scale(0.95,1)" font-size="6.9" text-anchor="end" font-weight="bold" stroke="#000" stroke-width="0.08">0.34</text>
<text transform="translate(153,399.94) scale(0.95,1)" font-size="6.9" text-anchor="end" font-weight="bold" stroke="#000" stroke-width="0.08">0.35</text>
<text transform="translate(153,382.78) scale(0.95,1)" font-size="6.9" text-anchor="end" font-weight="bold" stroke="#000" stroke-width="0.08">0.36</text>
<path d="M178.51,506.7 L211.6,475 L244.69,446.2 L277.78,420 L310.87,395" fill="none" stroke="#0000ff" stroke-width="1.5" stroke-linejoin="round"/>
<circle cx="178.51" cy="506.7" r="1.25" fill="#0000ff"/>
<circle cx="211.6" cy="475" r="1.25" fill="#0000ff"/>
<circle cx="244.69" cy="446.2" r="1.25" fill="#0000ff"/>
<circle cx="277.78" cy="420" r="1.25" fill="#0000ff"/>
<circle cx="310.87" cy="395" r="1.25" fill="#0000ff"/>
<path d="M178.51,509.7 L211.6,478 L244.69,449.4 L277.78,423.5 L310.87,398.8" fill="none" stroke="#ff0000" stroke-width="1.3" stroke-linejoin="round" stroke-dasharray="5.5,4.5"/>
<circle cx="178.51" cy="509.7" r="1.25" fill="#ff0000"/>
<circle cx="211.6" cy="478" r="1.25" fill="#ff0000"/>
<circle cx="244.69" cy="449.4" r="1.25" fill="#ff0000"/>
<circle cx="277.78" cy="423.5" r="1.25" fill="#ff0000"/>
<circle cx="310.87" cy="398.8" r="1.25" fill="#ff0000"/>
<path d="M178.51,511.8 L211.6,479.7 L244.69,451.3 L277.78,425.4 L310.87,400.8" fill="none" stroke="#1a66ff" stroke-width="1.3" stroke-linejoin="round" stroke-dasharray="1.3,4.7"/>
<circle cx="178.51" cy="511.8" r="1.25" fill="#1a66ff"/>
<circle cx="211.6" cy="479.7" r="1.25" fill="#1a66ff"/>
<circle cx="244.69" cy="451.3" r="1.25" fill="#1a66ff"/>
<circle cx="277.78" cy="425.4" r="1.25" fill="#1a66ff"/>
<circle cx="310.87" cy="400.8" r="1.25" fill="#1a66ff"/>
<path d="M178.51,513.2 L211.6,481 L244.69,452.7 L277.78,427 L310.87,402.7" fill="none" stroke="#1f9e50" stroke-width="1.3" stroke-linejoin="round" stroke-dasharray="6.2,2.5,1.3,2.5"/>
<path d="M177.21,511.8 L180.11,513.2 L177.21,514.6 Z" fill="#1f9e50"/>
<path d="M210.3,479.6 L213.2,481 L210.3,482.4 Z" fill="#1f9e50"/>
<path d="M243.39,451.3 L246.29,452.7 L243.39,454.1 Z" fill="#1f9e50"/>
<path d="M276.48,425.6 L279.38,427 L276.48,428.4 Z" fill="#1f9e50"/>
<path d="M309.57,401.3 L312.47,402.7 L309.57,404.1 Z" fill="#1f9e50"/>
<path d="M178.51,514.9 L211.6,482.7 L244.69,454.2 L277.78,428.8 L310.87,404.2" fill="none" stroke="#a15ce8" stroke-width="1.3" stroke-linejoin="round" stroke-dasharray="4.5,3,1.3,3,1.3,3"/>
<path d="M177.21,513.5 L180.11,514.9 L177.21,516.3 Z" fill="#a15ce8"/>
<path d="M210.3,481.3 L213.2,482.7 L210.3,484.1 Z" fill="#a15ce8"/>
<path d="M243.39,452.8 L246.29,454.2 L243.39,455.6 Z" fill="#a15ce8"/>
<path d="M276.48,427.4 L279.38,428.8 L276.48,430.2 Z" fill="#a15ce8"/>
<path d="M309.57,402.8 L312.47,404.2 L309.57,405.6 Z" fill="#a15ce8"/>
<path d="M177.1,393.1H191.6" stroke="#0000ff" stroke-width="2"/>
<circle cx="184.35" cy="393.1" r="1.5" fill="#0000ff"/>
<text transform="translate(192.5,395.2) scale(0.97,1)" font-size="6.8" font-weight="bold" textLength="37.11" lengthAdjust="spacingAndGlyphs"><tspan font-style="italic" font-weight="bold">m</tspan><tspan font-size="4.62" dy="2.0">h,1</tspan><tspan dy="-2.0">= 0.6 kg/s</tspan></text>
<path d="M177.1,402.2H191.6" stroke="#ff0000" stroke-width="1.7" stroke-dasharray="5.5,4.5"/>
<circle cx="184.35" cy="402.2" r="1.5" fill="#ff0000"/>
<text transform="translate(192.5,404.3) scale(0.97,1)" font-size="6.8" font-weight="bold" textLength="37.11" lengthAdjust="spacingAndGlyphs"><tspan font-style="italic" font-weight="bold">m</tspan><tspan font-size="4.62" dy="2.0">h,2</tspan><tspan dy="-2.0">= 0.8 kg/s</tspan></text>
<path d="M177.1,411.4H191.6" stroke="#1a66ff" stroke-width="1.7" stroke-dasharray="1.3,4.7"/>
<circle cx="184.35" cy="411.4" r="1.5" fill="#1a66ff"/>
<text transform="translate(192.5,413.5) scale(0.97,1)" font-size="6.8" font-weight="bold" textLength="37.11" lengthAdjust="spacingAndGlyphs"><tspan font-style="italic" font-weight="bold">m</tspan><tspan font-size="4.62" dy="2.0">h,3</tspan><tspan dy="-2.0">= 1.0 kg/s</tspan></text>
<path d="M177.1,420.5H191.6" stroke="#1f9e50" stroke-width="1.7" stroke-dasharray="6.2,2.5,1.3,2.5"/>
<path d="M183.05,419.1 L185.95,420.5 L183.05,421.9 Z" fill="#1f9e50"/>
<text transform="translate(192.5,422.6) scale(0.97,1)" font-size="6.8" font-weight="bold" textLength="37.11" lengthAdjust="spacingAndGlyphs"><tspan font-style="italic" font-weight="bold">m</tspan><tspan font-size="4.62" dy="2.0">h,4</tspan><tspan dy="-2.0">= 1.2 kg/s</tspan></text>
<path d="M177.1,429.5H191.6" stroke="#a15ce8" stroke-width="1.7" stroke-dasharray="4.5,3,1.3,3,1.3,3"/>
<path d="M183.05,428.1 L185.95,429.5 L183.05,430.9 Z" fill="#a15ce8"/>
<text transform="translate(192.5,431.6) scale(0.97,1)" font-size="6.8" font-weight="bold" textLength="37.11" lengthAdjust="spacingAndGlyphs"><tspan font-style="italic" font-weight="bold">m</tspan><tspan font-size="4.62" dy="2.0">h,5</tspan><tspan dy="-2.0">= 1.4 kg/s</tspan></text>
<text transform="translate(169.2,394.8) scale(0.9,1)" font-size="5.9" font-weight="bold" font-style="italic">(e)</text>
<text transform="translate(236.3,545.5) scale(0.9,1)" font-size="8.4" font-weight="bold" stroke="#000" stroke-width="0.35"><tspan font-style="italic">T</tspan><tspan font-size="5" dy="2">h, in</tspan><tspan dy="-2">/K</tspan></text>
<text transform="translate(133,460.2) scale(0.95,1) rotate(-90)" font-size="8.2" font-weight="bold"><tspan font-style="italic">N</tspan><tspan font-size="4.6" dy="1.7">ES</tspan></text>
</svg></body></html>
